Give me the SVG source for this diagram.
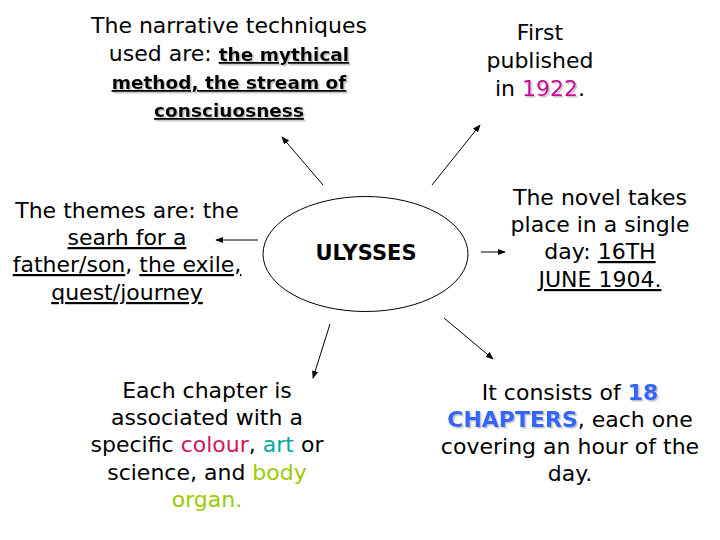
<svg xmlns="http://www.w3.org/2000/svg" width="720" height="540" viewBox="0 0 720 540">
<defs>
<marker id="ah" viewBox="0 0 10 10" refX="9" refY="5" markerWidth="8" markerHeight="8" markerUnits="userSpaceOnUse" orient="auto">
<path d="M0,1 L10,5 L0,9 z" fill="#000"/>
</marker>
<filter id="sh" x="-5%" y="-20%" width="110%" height="150%">
<feDropShadow dx="1.5" dy="1.5" stdDeviation="0.7" flood-color="#999" flood-opacity="0.6"/>
</filter>
</defs>
<style>
text{font-family:"DejaVu Sans","Noto Sans",sans-serif;font-size:22px;fill:#000;text-anchor:middle}
.b{font-weight:bold}
.u{text-decoration:underline}
.sh{filter:url(#sh)}
.mag{fill:#cc0099}
.blue{fill:#3366ff}
.pink{fill:#d4145a}
.teal{fill:#00a99d}
.lime{fill:#99cc00}
.conn line{stroke:#000;stroke-width:1;marker-end:url(#ah)}
</style>
<rect width="720" height="540" fill="#fff"/>
<g id="connectors" class="conn">
<line x1="323" y1="185" x2="282" y2="137"/>
<line x1="432" y1="185" x2="480" y2="125"/>
<line x1="258" y1="240" x2="216" y2="240"/>
<line x1="481" y1="252" x2="505" y2="252"/>
<line x1="330" y1="324" x2="313" y2="378"/>
<line x1="444" y1="318" x2="493" y2="359"/>
</g>
<g id="center">
<ellipse cx="365.5" cy="254" rx="102.5" ry="57.5" fill="none" stroke="#000" stroke-width="1"/>
<text x="366" y="260" class="b" font-size="20" style="font-size:21px">ULYSSES</text>
</g>
<g id="techniques">
<text x="229" y="33">The narrative techniques</text>
<text x="229" y="61">used are: <tspan class="b u sh" style="font-size:18.5px">the mythical</tspan></text>
<text x="229" y="89" class="b u sh" style="font-size:18.5px">method, the stream of</text>
<text x="229" y="117" class="b u sh" style="font-size:18.5px">consciuosness</text>
</g>
<g id="published">
<text x="540" y="40">First</text>
<text x="540" y="68">published</text>
<text x="540" y="96">in <tspan class="mag sh">1922</tspan>.</text>
</g>
<g id="themes">
<text x="127" y="218">The themes are: the</text>
<text x="127" y="245"><tspan class="u">searh for a</tspan></text>
<text x="127" y="272"><tspan class="u">father/son</tspan>, <tspan class="u">the exile,</tspan></text>
<text x="127" y="300"><tspan class="u">quest/journey</tspan></text>
</g>
<g id="day">
<text x="600" y="205">The novel takes</text>
<text x="600" y="232">place in a single</text>
<text x="600" y="259">day: <tspan class="u">16TH</tspan></text>
<text x="600" y="287" class="u">JUNE 1904.</text>
</g>
<g id="chapter">
<text x="207" y="398">Each chapter is</text>
<text x="207" y="425">associated with a</text>
<text x="207" y="452">specific <tspan class="pink">colour</tspan>, <tspan class="teal">art</tspan> or</text>
<text x="207" y="480">science, and <tspan class="lime">body</tspan></text>
<text x="207" y="507"><tspan class="lime">organ.</tspan></text>
</g>
<g id="chapters">
<text x="570" y="400">It consists of <tspan class="b sh blue">18</tspan></text>
<text x="570" y="427"><tspan class="b sh blue">CHAPTERS</tspan>, each one</text>
<text x="570" y="454">covering an hour of the</text>
<text x="570" y="481">day.</text>
</g>
</svg>
